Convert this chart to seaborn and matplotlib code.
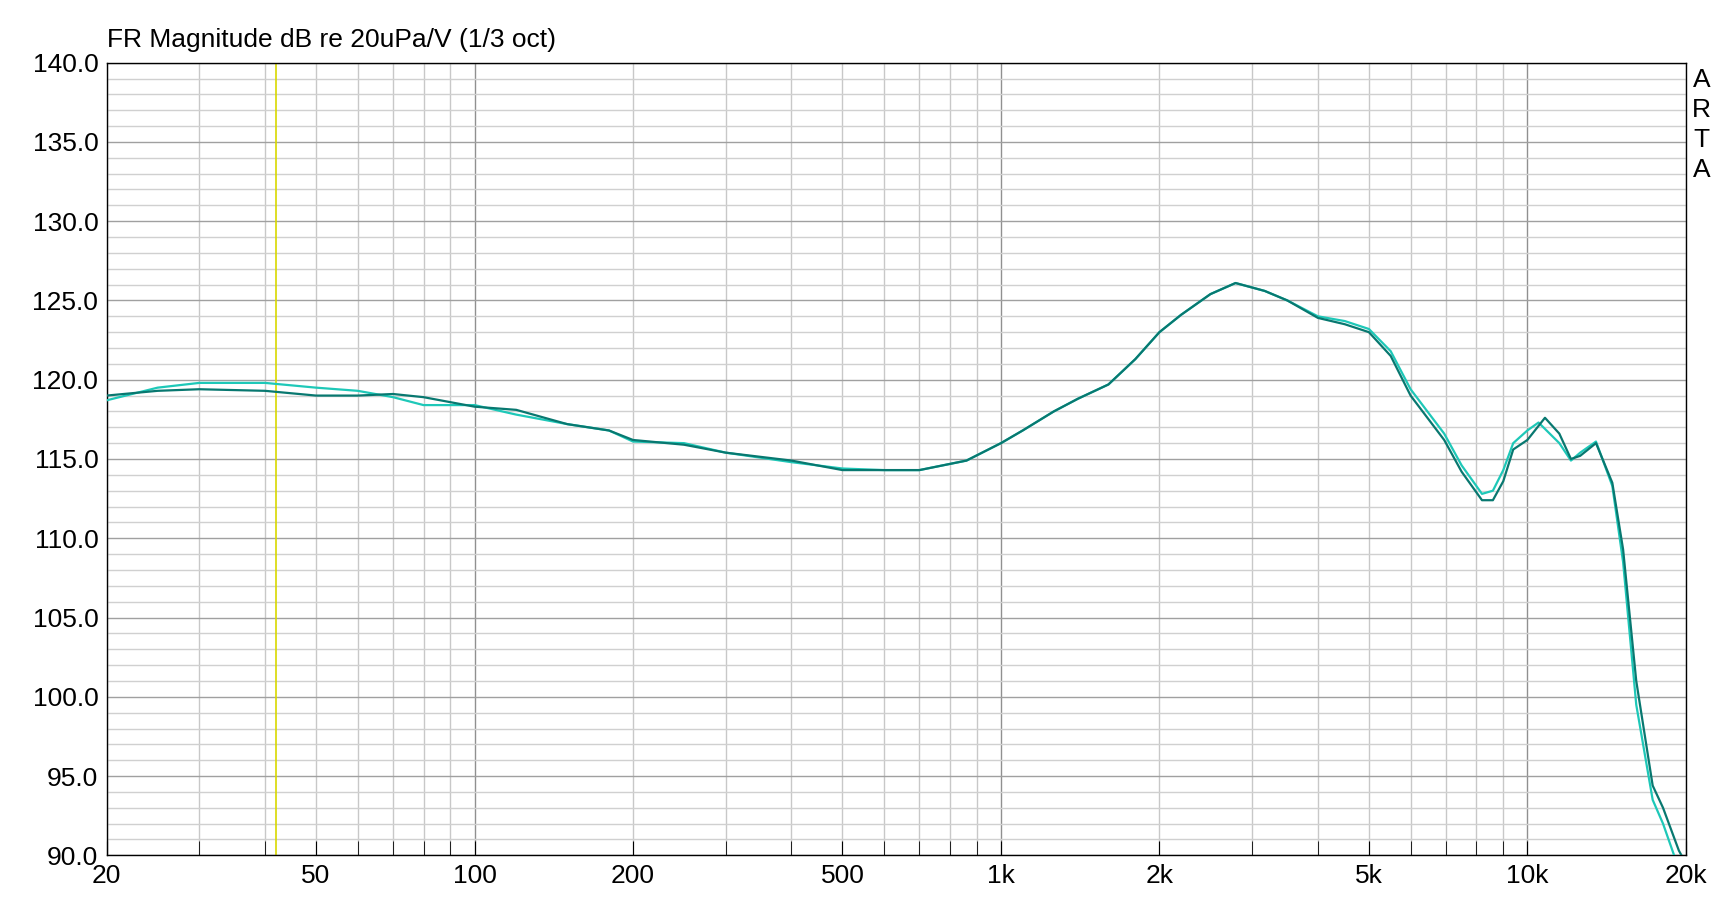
import numpy as np
import matplotlib
matplotlib.use("Agg")
import matplotlib.pyplot as plt
import seaborn as sns
from matplotlib.ticker import FixedLocator, NullFormatter

freq_dark = [20, 25, 30, 40, 50, 60, 70, 80, 100, 120, 150, 180, 200, 250, 300, 400, 500, 600, 700, 860, 1000, 1100, 1260, 1400, 1600, 1800, 2000, 2200, 2500, 2790, 3170, 3500, 4000, 4500, 5000, 5500, 6000, 6950, 7500, 8200, 8600, 9000, 9400, 10000, 10800, 11500, 12100, 12600, 13500, 14500, 15200, 16100, 17300, 18100, 19400, 20000]
db_dark = [119.0, 119.3, 119.4, 119.3, 119.0, 119.0, 119.1, 118.9, 118.3, 118.1, 117.2, 116.8, 116.2, 115.9, 115.4, 114.9, 114.3, 114.3, 114.3, 114.9, 116.0, 116.8, 118.0, 118.8, 119.7, 121.3, 123.0, 124.1, 125.4, 126.1, 125.6, 125.0, 123.9, 123.5, 123.0, 121.5, 119.0, 116.2, 114.2, 112.4, 112.4, 113.6, 115.6, 116.2, 117.6, 116.6, 115.0, 115.2, 116.0, 113.5, 109.3, 101.0, 94.4, 93.0, 90.3, 89.5]
freq_cyan = [20, 25, 30, 40, 50, 60, 70, 80, 100, 120, 150, 180, 200, 250, 300, 400, 500, 600, 700, 860, 1000, 1100, 1260, 1400, 1600, 1800, 2000, 2200, 2500, 2790, 3170, 3500, 4000, 4500, 5000, 5500, 6000, 6950, 7500, 8200, 8600, 9000, 9400, 10000, 10500, 11500, 12100, 12600, 13500, 14500, 15200, 16100, 17300, 18100, 19000, 20000]
db_cyan = [118.7, 119.5, 119.8, 119.8, 119.5, 119.3, 118.9, 118.4, 118.4, 117.8, 117.2, 116.8, 116.1, 116.0, 115.4, 114.8, 114.4, 114.3, 114.3, 114.9, 116.0, 116.8, 118.0, 118.8, 119.7, 121.3, 123.0, 124.1, 125.4, 126.1, 125.6, 125.0, 124.0, 123.7, 123.2, 121.8, 119.4, 116.6, 114.6, 112.8, 113.0, 114.3, 116.0, 116.8, 117.3, 116.0, 114.9, 115.4, 116.1, 113.3, 108.5, 99.5, 93.5, 92.0, 90.0, 88.5]

plt.rcParams['font.family'] = ['Liberation Sans', 'DejaVu Sans']
fig = plt.figure(figsize=(17.22, 9.08), dpi=100)
ax = fig.add_axes([0.0619, 0.058, 0.9171, 0.873])
ax.set_xscale('log')
ax.set_xlim(20, 20000)
ax.set_ylim(90, 140)

minor_x = [m * d for d in [10, 100, 1000, 10000] for m in range(2, 10) if 20 <= m * d <= 20000]
for f in minor_x:
    ax.axvline(f, color='#c8c8c8', lw=1, zorder=0)
for f in [100, 1000, 10000]:
    ax.axvline(f, color='#909090', lw=1, zorder=0)
for y in range(90, 141):
    ax.axhline(y, color='#a0a0a0' if y % 5 == 0 else '#d0d0d0', lw=1, zorder=0)
ax.axvline(42, color='#d8d800', lw=1.2, zorder=1)

sns.lineplot(x=freq_cyan, y=db_cyan, ax=ax, color='#1ec8b8', lw=1.6, zorder=3)
sns.lineplot(x=freq_dark, y=db_dark, ax=ax, color='#087870', lw=1.6, zorder=4)

xt = [20, 50, 100, 200, 500, 1000, 2000, 5000, 10000, 20000]
xl = ['20', '50', '100', '200', '500', '1k', '2k', '5k', '10k', '20k']
ax.set_xticks(xt)
ax.set_xticklabels(xl, fontsize=19)
ax.xaxis.set_minor_locator(FixedLocator(minor_x))
ax.xaxis.set_minor_formatter(NullFormatter())
ax.tick_params(axis='x', which='both', direction='in', length=10, color='black', pad=6)
yt = list(range(90, 141, 5))
ax.set_yticks(yt)
ax.set_yticklabels([f'{v:.1f}' for v in yt], fontsize=19)
ax.tick_params(axis='y', length=0, pad=6)
for s in ax.spines.values():
    s.set_color('black'); s.set_linewidth(1)
ax.set_xlabel(''); ax.set_ylabel('')
fig.text(0.0619, 0.943, 'FR Magnitude dB re 20uPa/V (1/3 oct)', fontsize=19, va='bottom')
for i, c in enumerate('ARTA'):
    fig.text(0.988, 0.912 - i * 0.033, c, fontsize=19, ha='center', va='center')
fig.savefig('out.png', dpi=100)
